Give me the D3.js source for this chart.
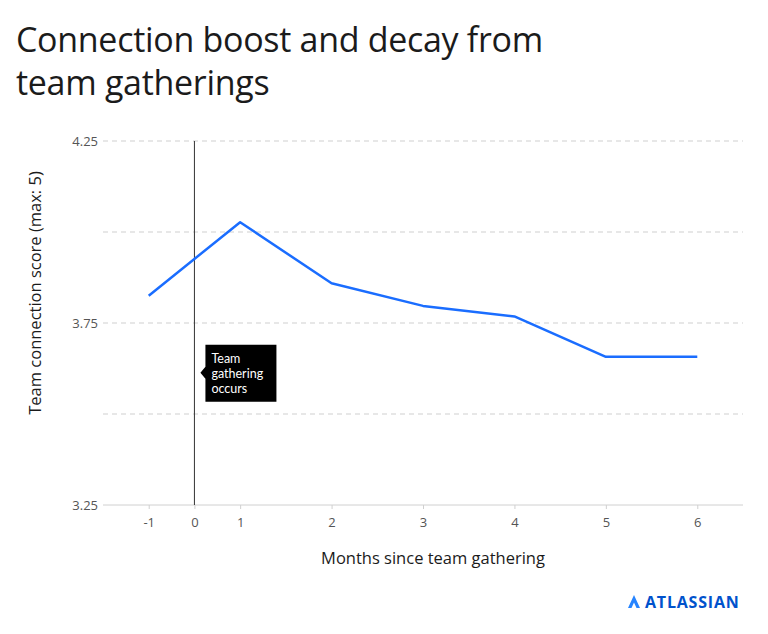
<!DOCTYPE html>
<html>
<head>
<meta charset="utf-8">
<script src="https://cdn.jsdelivr.net/npm/d3@7"></script>
<style>
  body { margin: 0; background: #fff; }
  svg { display: block; font-family: "Open Sans", "Noto Sans", sans-serif; }
</style>
</head>
<body>
<svg id="chart" width="768" height="634"></svg>
<script>
// chart data
const months = [-1, 1, 2, 3, 4, 5, 6];
const scores = [3.825, 4.027, 3.859, 3.797, 3.768, 3.657, 3.657];
const xTicks = [-1, 0, 1, 2, 3, 4, 5, 6];
const yTicks = [3.25, 3.5, 3.75, 4.0, 4.25];
const yLabeled = [3.25, 3.75, 4.25];
const titleLines = ["Connection boost and decay from", "team gatherings"];
const noteLines = ["Team", "gathering", "occurs"];

const svg = d3.select("#chart");
const margin = { top: 141, right: 25, bottom: 129, left: 103 };
const width = 768 - margin.left - margin.right;
const height = 634 - margin.top - margin.bottom;

// title
svg.append("text")
    .attr("x", 16).attr("y", 52)
    .style("font-size", "34px").style("fill", "#1b1b1b")
    .style("letter-spacing", "-0.3px")
    .selectAll("tspan").data(titleLines).enter().append("tspan")
    .attr("x", 16).attr("dy", (d, i) => i === 0 ? 0 : 43)
    .text(d => d);

const g = svg.append("g").attr("transform", `translate(${margin.left},${margin.top})`);

// -1 and 1..6 sit on even steps, 0 falls half way between -1 and 1
const step = width / 7;
const x = d3.scaleLinear()
    .domain([-1, 0, 1, 6])
    .range([step * 0.5, step, step * 1.5, step * 6.5]);
const y = d3.scaleLinear().domain([3.25, 4.25]).range([height, 0]);

// dashed gridlines
g.selectAll(".grid").data(yTicks.filter(d => d !== 3.25)).enter().append("line")
    .attr("x1", 0).attr("x2", width)
    .attr("y1", d => y(d)).attr("y2", d => y(d))
    .attr("stroke", "#cfcfcf").attr("stroke-width", 1)
    .attr("stroke-dasharray", "5,4");

// y tick labels
g.selectAll(".ylab").data(yLabeled).enter().append("text")
    .attr("x", -5).attr("y", d => y(d)).attr("dy", "0.35em")
    .attr("text-anchor", "end")
    .style("font-size", "13px").style("fill", "#555")
    .text(d => d.toFixed(2));

// x axis
const xAxis = g.append("g").attr("transform", `translate(0,${height})`)
    .call(d3.axisBottom(x).tickValues(xTicks).tickFormat(d => String(d)).tickSize(4).tickPadding(9));
xAxis.select(".domain").attr("stroke", "#d0d0d0").attr("d", `M0,0H${width}`);
xAxis.selectAll(".tick line").attr("stroke", "#d0d0d0");
xAxis.selectAll(".tick text").style("font-size", "13px").style("fill", "#555")
    .style("font-family", "'Open Sans', sans-serif");

// gathering marker
g.append("line")
    .attr("x1", x(0)).attr("x2", x(0))
    .attr("y1", 0).attr("y2", height)
    .attr("stroke", "#333").attr("stroke-width", 1);

// line
const line = d3.line().x((d, i) => x(months[i])).y(d => y(d));
g.append("path").datum(scores)
    .attr("d", line)
    .attr("fill", "none")
    .attr("stroke", "#1a6dff")
    .attr("stroke-width", 2.5)
    .attr("stroke-linejoin", "round");

// annotation box
const bx = x(0) + 11, by = y(3.69), bw = 71, bh = 57;
g.append("path")
    .attr("d", `M${bx},${by}H${bx + bw}V${by + bh}H${bx}V${by + 34}L${bx - 5},${by + 28}L${bx},${by + 22}Z`)
    .attr("fill", "#000");
g.append("text")
    .style("font-size", "12.5px").style("fill", "#fff")
    .style("font-family", "Lato, sans-serif")
    .selectAll("tspan").data(noteLines).enter().append("tspan")
    .attr("x", bx + 6).attr("y", (d, i) => by + 18 + i * 15)
    .text(d => d);

// axis titles
svg.append("text")
    .attr("x", margin.left + width / 2 + 10).attr("y", 564)
    .attr("text-anchor", "middle")
    .style("font-size", "16.5px").style("fill", "#1b1b1b")
    .text("Months since team gathering");
svg.append("text")
    .attr("transform", `translate(41,${margin.top + height / 2 - 30}) rotate(-90)`)
    .attr("text-anchor", "middle")
    .style("font-size", "16.5px").style("fill", "#1b1b1b")
    .text("Team connection score (max: 5)");

// brand mark
const logo = svg.append("g").attr("transform", "translate(628,595)");
logo.append("path").attr("d", "M0,13L6,0L12,13H8.5L6,7.5L3.5,13Z").attr("fill", "#2684ff");
logo.append("text").attr("x", 17).attr("y", 13)
    .style("font-size", "16px").style("font-weight", "bold").style("fill", "#0052cc")
    .style("letter-spacing", "0.8px")
    .text("ATLASSIAN");
</script>
</body>
</html>
